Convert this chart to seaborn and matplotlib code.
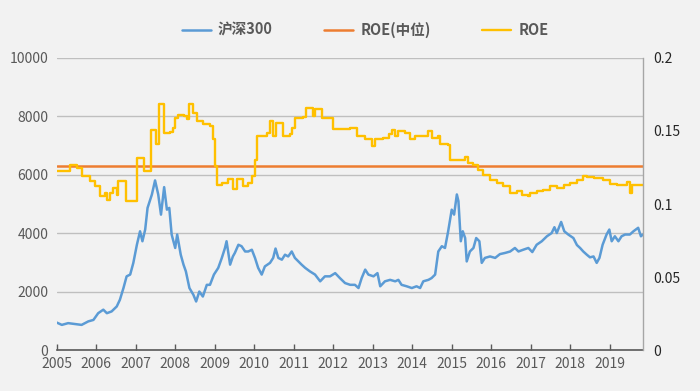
import numpy as np
import pandas as pd
import matplotlib.pyplot as plt
import seaborn as sns
from matplotlib.ticker import FuncFormatter

# CSI 300 index (left axis)
hs300_year = [2005.00, 2005.13, 2005.29, 2005.46, 2005.63, 2005.80, 2005.93, 2006.05, 2006.18, 2006.27,
              2006.39, 2006.52, 2006.60, 2006.69, 2006.77, 2006.86, 2006.94, 2007.03, 2007.11, 2007.17,
              2007.24, 2007.30, 2007.41, 2007.49, 2007.57, 2007.64, 2007.72, 2007.79, 2007.85, 2007.91,
              2008.00, 2008.05, 2008.14, 2008.21, 2008.27, 2008.36, 2008.46, 2008.53, 2008.61, 2008.70,
              2008.80, 2008.88, 2008.98, 2009.09, 2009.18, 2009.26, 2009.30, 2009.39, 2009.46, 2009.51,
              2009.60, 2009.68, 2009.77, 2009.85, 2009.94, 2010.02, 2010.10, 2010.19, 2010.27, 2010.40,
              2010.48, 2010.54, 2010.61, 2010.70, 2010.78, 2010.86, 2010.95, 2011.03, 2011.12, 2011.20,
              2011.29, 2011.41, 2011.54, 2011.67, 2011.79, 2011.92, 2012.05, 2012.17, 2012.30, 2012.43,
              2012.55, 2012.64, 2012.72, 2012.81, 2012.89, 2013.02, 2013.12, 2013.19, 2013.31, 2013.44,
              2013.57, 2013.65, 2013.73, 2013.86, 2013.99, 2014.11, 2014.20, 2014.28, 2014.41, 2014.49,
              2014.58, 2014.66, 2014.75, 2014.83, 2014.91, 2015.00, 2015.06, 2015.13, 2015.17, 2015.23,
              2015.28, 2015.34, 2015.38, 2015.46, 2015.55, 2015.62, 2015.70, 2015.76, 2015.84, 2015.97,
              2016.10, 2016.22, 2016.35, 2016.48, 2016.60, 2016.69, 2016.81, 2016.94, 2017.04, 2017.15,
              2017.28, 2017.41, 2017.53, 2017.60, 2017.66, 2017.77, 2017.85, 2017.95, 2018.08, 2018.17,
              2018.25, 2018.33, 2018.42, 2018.50, 2018.59, 2018.67, 2018.74, 2018.82, 2018.92, 2018.99,
              2019.05, 2019.13, 2019.22, 2019.30, 2019.39, 2019.51, 2019.60, 2019.72, 2019.79, 2019.84]
hs300 = [950, 870, 930, 900, 870, 990, 1040, 1270, 1390, 1270,
         1330, 1500, 1730, 2130, 2530, 2590, 2990, 3610, 4070, 3730,
         4130, 4870, 5330, 5810, 5330, 4640, 5580, 4810, 4870, 3960,
         3500, 3960, 3270, 2930, 2700, 2130, 1900, 1670, 2010, 1840,
         2240, 2240, 2590, 2820, 3160, 3500, 3730, 2930, 3210, 3330,
         3610, 3560, 3380, 3380, 3440, 3160, 2820, 2590, 2870, 2990,
         3160, 3480, 3160, 3100, 3270, 3210, 3380, 3160, 3040, 2930,
         2820, 2700, 2590, 2360, 2530, 2530, 2640, 2470, 2300, 2240,
         2240, 2130, 2470, 2760, 2590, 2530, 2640, 2190, 2360, 2410,
         2360, 2410, 2240, 2190, 2130, 2190, 2130, 2360, 2410, 2470,
         2590, 3380, 3560, 3500, 4070, 4810, 4640, 5330, 5100, 3730,
         4070, 3840, 3040, 3380, 3500, 3840, 3730, 2990, 3160, 3210,
         3160, 3290, 3330, 3380, 3500, 3380, 3440, 3500, 3360, 3610,
         3730, 3900, 4010, 4210, 4010, 4390, 4070, 3960, 3840, 3600,
         3500, 3380, 3270, 3180, 3210, 2990, 3160, 3610, 3960, 4130,
         3730, 3900, 3730, 3900, 3960, 3960, 4070, 4190, 3900, 3960]

# ROE (right axis)
roe_year = [2005.00, 2005.34, 2005.51, 2005.63, 2005.84, 2005.97, 2006.10, 2006.22, 2006.27, 2006.35,
            2006.43, 2006.52, 2006.56, 2006.69, 2006.75, 2006.94, 2007.04, 2007.18, 2007.22, 2007.32,
            2007.38, 2007.45, 2007.51, 2007.59, 2007.70, 2007.72, 2007.87, 2007.95, 2008.00, 2008.08,
            2008.21, 2008.29, 2008.36, 2008.46, 2008.54, 2008.71, 2008.88, 2008.95, 2009.01, 2009.05,
            2009.18, 2009.34, 2009.46, 2009.56, 2009.68, 2009.72, 2009.85, 2009.94, 2010.02, 2010.06,
            2010.23, 2010.32, 2010.40, 2010.48, 2010.55, 2010.70, 2010.72, 2010.91, 2010.95, 2011.03,
            2011.24, 2011.31, 2011.43, 2011.50, 2011.54, 2011.68, 2011.71, 2011.92, 2012.00, 2012.17,
            2012.43, 2012.60, 2012.81, 2012.98, 2013.06, 2013.27, 2013.40, 2013.48, 2013.57, 2013.65,
            2013.82, 2013.94, 2014.07, 2014.28, 2014.41, 2014.49, 2014.66, 2014.70, 2014.91, 2014.96,
            2015.21, 2015.34, 2015.42, 2015.55, 2015.67, 2015.80, 2015.97, 2016.14, 2016.31, 2016.48,
            2016.65, 2016.77, 2016.94, 2016.98, 2017.15, 2017.32, 2017.49, 2017.66, 2017.83, 2018.00,
            2018.17, 2018.33, 2018.42, 2018.59, 2018.84, 2019.01, 2019.18, 2019.43, 2019.51, 2019.56,
            2019.85]
roe = [0.1225, 0.1264, 0.1248, 0.1190, 0.1156, 0.1122, 0.1058, 0.1077, 0.1031, 0.1077,
       0.1111, 0.1065, 0.1156, 0.1156, 0.1019, 0.1019, 0.1316, 0.1316, 0.1225, 0.1225,
       0.1510, 0.1510, 0.1408, 0.1682, 0.1682, 0.1488, 0.1492, 0.1522, 0.1590, 0.1606,
       0.1601, 0.1583, 0.1682, 0.1625, 0.1567, 0.1545, 0.1533, 0.1442, 0.1259, 0.1134,
       0.1145, 0.1173, 0.1104, 0.1173, 0.1173, 0.1122, 0.1145, 0.1190, 0.1305, 0.1464,
       0.1464, 0.1488, 0.1567, 0.1464, 0.1556, 0.1556, 0.1464, 0.1476, 0.1522, 0.1590,
       0.1597, 0.1659, 0.1659, 0.1601, 0.1652, 0.1647, 0.1590, 0.1590, 0.1515, 0.1515,
       0.1522, 0.1464, 0.1442, 0.1396, 0.1442, 0.1453, 0.1476, 0.1510, 0.1464, 0.1499,
       0.1488, 0.1442, 0.1464, 0.1464, 0.1499, 0.1453, 0.1464, 0.1408, 0.1401, 0.1305,
       0.1305, 0.1323, 0.1282, 0.1264, 0.1236, 0.1202, 0.1168, 0.1145, 0.1122, 0.1077,
       0.1088, 0.1065, 0.1053, 0.1077, 0.1088, 0.1099, 0.1122, 0.1111, 0.1134, 0.1145,
       0.1168, 0.1190, 0.1186, 0.1179, 0.1168, 0.1140, 0.1134, 0.1149, 0.1077, 0.1134,
       0.1134]

roe_median = 0.126
x_range = [2005.0, 2019.85]
year_ticks = list(range(2005, 2020))

bg = '#f2f2f2'
txt = '#595959'

sns.set_theme(style="white")
plt.rcParams['font.family'] = ['Noto Sans CJK SC', 'DejaVu Sans']

fig, ax = plt.subplots(figsize=(7, 3.91), dpi=100)
fig.patch.set_facecolor(bg)
ax.set_facecolor(bg)
fig.subplots_adjust(left=0.081, right=0.919, bottom=0.104, top=0.852)
ax2 = ax.twinx()

hs_df = pd.DataFrame({'year': hs300_year, 'val': hs300})
roe_df = pd.DataFrame({'year': roe_year, 'val': roe})
med_df = pd.DataFrame({'year': x_range, 'val': [roe_median] * 2})

sns.lineplot(data=hs_df, x='year', y='val', ax=ax, color='#5b9bd5', linewidth=1.8, label='沪深300', legend=False)
sns.lineplot(data=med_df, x='year', y='val', ax=ax2, color='#ed7d31', linewidth=1.8, label='ROE(中位)', legend=False)
sns.lineplot(data=roe_df, x='year', y='val', ax=ax2, color='#ffc000', linewidth=1.7, label='ROE', legend=False,
             drawstyle='steps-post')

ax.set_xlim(x_range)
ax.set_ylim(0, 10000)
ax2.set_ylim(0, 0.2)
ax.set_xticks(year_ticks)
ax.set_yticks(range(0, 10001, 2000))
ax2.set_yticks([0, 0.05, 0.1, 0.15, 0.2])
ax2.yaxis.set_major_formatter(FuncFormatter(lambda v, p: f'{v:g}'))

ax.grid(axis='y', color='#bfbfbf', linewidth=1)
ax.grid(axis='x', visible=False)
ax2.grid(False)
ax.set_axisbelow(True)
ax.set_xlabel('')
ax.set_ylabel('')
ax2.set_ylabel('')

for a in (ax, ax2):
    for s in ('top', 'left', 'right', 'bottom'):
        a.spines[s].set_visible(False)
ax.spines['bottom'].set_visible(True)
ax.spines['bottom'].set_color(txt)
ax.spines['bottom'].set_linewidth(1.2)
ax2.spines['right'].set_visible(True)
ax2.spines['right'].set_color('#a6a6a6')
ax2.spines['right'].set_linewidth(1)

ax.tick_params(axis='x', direction='in', length=4, width=1, color=txt, labelcolor=txt, labelsize=10, pad=5,
               bottom=True)
ax.tick_params(axis='y', length=0, labelcolor=txt, labelsize=10, pad=6)
ax2.tick_params(axis='y', length=0, labelcolor='#262626', labelsize=10, pad=7)

handles = ax.get_lines()[:1] + ax2.get_lines()[:2]
labels = ['沪深300', 'ROE(中位)', 'ROE']
leg = fig.legend(handles, labels, loc='center', bbox_to_anchor=(365 / 700, 1 - 30 / 391), ncol=3,
                 frameon=False, handlelength=2.0, handletextpad=0.5, columnspacing=3.5,
                 prop={'size': 10.5, 'weight': 'bold'})
for t in leg.get_texts():
    t.set_color(txt)

fig.savefig('out.png', dpi=100, facecolor=bg)
